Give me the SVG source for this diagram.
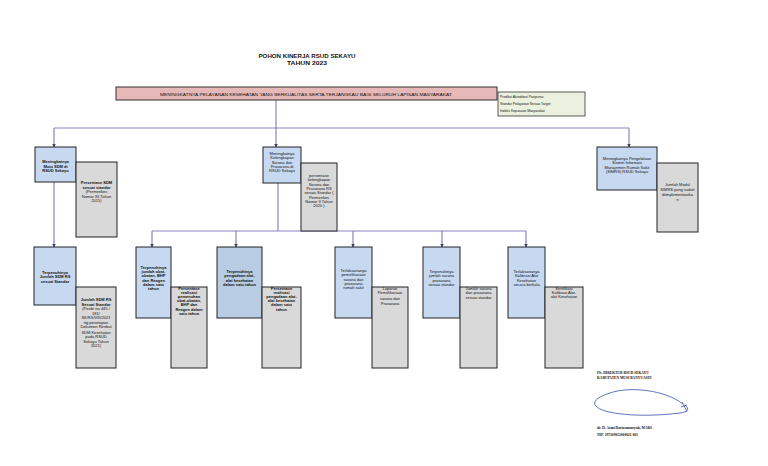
<svg xmlns="http://www.w3.org/2000/svg" width="768" height="466" viewBox="0 0 768 466">
<defs>
<marker id="ah" markerWidth="4" markerHeight="4" refX="3.5" refY="2" orient="auto" markerUnits="userSpaceOnUse"><path d="M0,0 L4,2 L0,4 z" fill="#404060"/></marker>
<style>
text{font-family:"Liberation Sans",Arial,sans-serif;fill:#111;text-anchor:middle}
.t{font-size:4px}
.b{font-weight:bold}
.blue{fill:#c6d9f1;stroke:#222;stroke-width:1}
.blue2{fill:#b8cce4;stroke:#222;stroke-width:1}
.grey{fill:#d9d9d9;stroke:#222;stroke-width:1}
.con line{stroke:#8e80c0;stroke-width:1.2}
.sig{font-family:"Liberation Serif",serif;font-weight:bold;font-size:3.6px;text-anchor:start}
</style>
</defs>
<rect width="768" height="466" fill="#fff"/>
<g id="title">
<text x="307" y="57.5" font-size="6" class="b" textLength="97" lengthAdjust="spacingAndGlyphs">POHON KINERJA RSUD SEKAYU</text>
<text x="307" y="65" font-size="6" class="b" textLength="40" lengthAdjust="spacingAndGlyphs">TAHUN 2023</text>
</g>
<g id="connectors" class="con">
<line x1="276" y1="100" x2="276" y2="128"/>
<line x1="54" y1="128" x2="629" y2="128"/>
<line x1="54" y1="128" x2="54" y2="147" marker-end="url(#ah)"/>
<line x1="276" y1="128" x2="276" y2="147" marker-end="url(#ah)"/>
<line x1="629" y1="128" x2="629" y2="147" marker-end="url(#ah)"/>
<line x1="54" y1="182" x2="54" y2="247" marker-end="url(#ah)"/>
<line x1="278" y1="183" x2="278" y2="231"/>
<line x1="152" y1="231" x2="526" y2="231"/>
<line x1="152" y1="231" x2="152" y2="247" marker-end="url(#ah)"/>
<line x1="236" y1="231" x2="236" y2="247" marker-end="url(#ah)"/>
<line x1="353" y1="231" x2="353" y2="247" marker-end="url(#ah)"/>
<line x1="442" y1="231" x2="442" y2="247" marker-end="url(#ah)"/>
<line x1="526" y1="231" x2="526" y2="247" marker-end="url(#ah)"/>
</g>
<g id="goal">
<rect x="116" y="87" width="381" height="13" fill="#e6b8b7" stroke="#333" stroke-width="1"/>
<text x="306" y="95.5" font-size="4.2" textLength="292" lengthAdjust="spacingAndGlyphs">MENINGKATNYA PELAYANAN KESEHATAN YANG BERKUALITAS SERTA TERJANGKAU BAGI SELURUH LAPISAN MASYARAKAT</text>
</g>
<g id="indicators">
<rect x="498" y="92" width="87" height="24" fill="#ebf1de" stroke="#333" stroke-width="0.8"/>
<text x="500" y="98" font-size="3.4" style="text-anchor:start">Prediksi Akreditasi Paripurna</text>
<text x="500" y="105" font-size="3.4" style="text-anchor:start">Standar Pelayanan Sesuai Target</text>
<text x="500" y="112" font-size="3.4" style="text-anchor:start">Indeks Kepuasan Masyarakat</text>
</g>
<g id="n-sdm">
<rect class="blue" x="35" y="147" width="41" height="35"/>
<text class="t b" x="55.5" y="163">Meningkatnya</text>
<text class="t b" x="55.5" y="167.5">Mutu SDM di</text>
<text class="t b" x="55.5" y="172">RSUD Sekayu</text>
</g>
<g id="i-sdm">
<rect class="grey" x="76" y="162" width="41" height="75"/>
<text class="t b" x="96.5" y="184">Persentase SDM</text>
<text class="t b" x="96.5" y="188.5">sesuai standar</text>
<text class="t" x="96.5" y="193">(Permenkes</text>
<text class="t" x="96.5" y="197.5">Nomor 33 Tahun</text>
<text class="t" x="96.5" y="202">2015)</text>
</g>
<g id="n-sarpras">
<rect class="blue" x="263" y="147" width="38" height="36"/>
<text class="t" x="282" y="155">Meningkatnya</text>
<text class="t" x="282" y="159.3">Kelengkapan</text>
<text class="t" x="282" y="163.6">Sarana dan</text>
<text class="t" x="282" y="167.9">Prasarana di</text>
<text class="t" x="282" y="172.2">RSUD Sekayu</text>
</g>
<g id="i-sarpras">
<rect class="grey" x="301" y="163" width="36" height="68"/>
<text class="t" x="319" y="177">persentase</text>
<text class="t" x="319" y="181.3">kelengkapan</text>
<text class="t" x="319" y="185.6">Sarana dan</text>
<text class="t" x="319" y="189.9">Prasarana RS</text>
<text class="t" x="319" y="194.2">sesuai Standar (</text>
<text class="t" x="319" y="198.5">Permenkes</text>
<text class="t" x="319" y="202.8">Nomor 3 Tahun</text>
<text class="t" x="319" y="207.1">2020 )</text>
</g>
<g id="n-simrs">
<rect class="blue" x="597" y="147" width="60" height="43"/>
<text class="t" x="627" y="160">Meningkatnya Pengelolaan</text>
<text class="t" x="627" y="164.3">Sistem Informasi</text>
<text class="t" x="627" y="169">Manajemen Rumah Sakit</text>
<text class="t" x="627" y="173.3">(SIMRS) RSUD Sekayu</text>
</g>
<g id="i-simrs">
<rect class="grey" x="657" y="163" width="41" height="69"/>
<text class="t" x="677.5" y="186">Jumlah Modul</text>
<text class="t" x="677.5" y="191">SIMRS yang sudah</text>
<text class="t" x="677.5" y="196">diimplementasika</text>
<text class="t" x="677.5" y="201">n</text>
</g>
<g id="n-jumlahsdm">
<rect class="blue" x="34" y="247" width="42" height="58"/>
<text class="t b" x="55" y="274">Terpenuhinya</text>
<text class="t b" x="55" y="278.3">Jumlah SDM RS</text>
<text class="t b" x="55" y="282.6">sesuai Standar</text>
</g>
<g id="i-jumlahsdm">
<rect class="grey" x="76" y="287" width="40" height="81"/>
<text class="t b" x="96" y="301">Jumlah SDM RS</text>
<text class="t b" x="96" y="305.5">Sesuai Standar</text>
<text class="t" x="96" y="310">(Perdir no 445 /</text>
<text class="t" x="96" y="314.5">181/</text>
<text class="t" x="96" y="319">SK/RS/VIII/2021</text>
<text class="t" x="96" y="323.5">ttg penetapan</text>
<text class="t" x="96" y="328">Dokumen Renbut</text>
<text class="t" x="96" y="333.5">SDM Kesehatan</text>
<text class="t" x="96" y="338">pada RSUD</text>
<text class="t" x="96" y="342.5">Sekayu Tahun</text>
<text class="t" x="96" y="347">2021)</text>
</g>
<g id="n-obat">
<rect class="blue" x="136" y="247" width="35" height="71"/>
<text class="t b" x="153.5" y="269">Terpenuhinya</text>
<text class="t b" x="153.5" y="273.2">jumlah obat-</text>
<text class="t b" x="153.5" y="277.4">obatan, BHP</text>
<text class="t b" x="153.5" y="281.6">dan Reagen</text>
<text class="t b" x="153.5" y="285.8">dalam satu</text>
<text class="t b" x="153.5" y="290">tahun</text>
</g>
<g id="i-obat">
<rect class="grey" x="171" y="287" width="36" height="81"/>
<text class="t b" x="189" y="289.5">Persentase</text>
<text class="t b" x="189" y="293.7">realisasi</text>
<text class="t b" x="189" y="298">pemenuhan</text>
<text class="t b" x="189" y="302.2">obat-obatan,</text>
<text class="t b" x="189" y="306.4">BHP dan</text>
<text class="t b" x="189" y="310.6">Reagen dalam</text>
<text class="t b" x="189" y="314.8">satu tahun</text>
</g>
<g id="n-alkes">
<rect class="blue2" x="217" y="247" width="45" height="71"/>
<text class="t b" x="239.5" y="273">Terpenuhinya</text>
<text class="t b" x="239.5" y="277.3">pengadaan alat-</text>
<text class="t b" x="239.5" y="281.6">alat kesehatan</text>
<text class="t b" x="239.5" y="285.9">dalam satu tahun</text>
</g>
<g id="i-alkes">
<rect class="grey" x="262" y="287" width="39" height="81"/>
<text class="t b" x="281.5" y="289.5">Persentase</text>
<text class="t b" x="281.5" y="293.7">realisasi</text>
<text class="t b" x="281.5" y="298">pengadaan alat-</text>
<text class="t b" x="281.5" y="302.2">alat kesehatan</text>
<text class="t b" x="281.5" y="306.4">dalam satu</text>
<text class="t b" x="281.5" y="310.6">tahun</text>
</g>
<g id="n-pemeliharaan">
<rect class="blue" x="335" y="247" width="37" height="71"/>
<text class="t" x="353.5" y="272">Terlaksananya</text>
<text class="t" x="353.5" y="276.3">pemeliharaan</text>
<text class="t" x="353.5" y="280.6">sarana dan</text>
<text class="t" x="353.5" y="284.9">prasarana</text>
<text class="t" x="353.5" y="289.2">rumah sakit</text>
</g>
<g id="i-pemeliharaan">
<rect class="grey" x="372" y="287" width="36" height="81"/>
<text class="t" x="390" y="290">Laporan</text>
<text class="t" x="390" y="294.3">Pemeliharaan</text>
<text class="t" x="390" y="299.5">sarana dan</text>
<text class="t" x="390" y="304.5">Prasarana</text>
</g>
<g id="n-sarana">
<rect class="blue" x="423" y="247" width="37" height="71"/>
<text class="t" x="441.5" y="273">Terpenuhinya</text>
<text class="t" x="441.5" y="277.3">jumlah sarana</text>
<text class="t" x="441.5" y="281.6">prasarana</text>
<text class="t" x="441.5" y="285.9">sesuai standar</text>
</g>
<g id="i-sarana">
<rect class="grey" x="460" y="287" width="37" height="81"/>
<text class="t" x="478.5" y="290">Jumlah sarana</text>
<text class="t" x="478.5" y="294.3">dan prasarana</text>
<text class="t" x="478.5" y="298.6">sesuai standar</text>
</g>
<g id="n-kalibrasi">
<rect class="blue" x="508" y="247" width="37" height="71"/>
<text class="t" x="526.5" y="273">Terlaksananya</text>
<text class="t" x="526.5" y="277.3">Kalibrasi Alat</text>
<text class="t" x="526.5" y="281.6">Kesehatan</text>
<text class="t" x="526.5" y="285.9">secara berkala</text>
</g>
<g id="i-kalibrasi">
<rect class="grey" x="545" y="287" width="38" height="81"/>
<text class="t" x="564" y="289.5">Sertifikasi</text>
<text class="t" x="564" y="293.8">Kalibrasi Alat-</text>
<text class="t" x="564" y="298.1">alat Kesehatan</text>
</g>
<g id="signature">
<text class="sig" x="597" y="374">Plt. DIREKTUR RSUD SEKAYU</text>
<text class="sig" x="597" y="378.5">KABUPATEN MUSI BANYUASIN</text>
<path d="M683,404 C665,390 630,386 610,393 C597,397 592,402 596,406 C602,414 640,418 680,413 C688,412 690,409 685,405 M682,402 C684,406 686,409 687,412 M681,407 l6,-2" fill="none" stroke="#3a4fa8" stroke-width="0.8"/>
<text class="sig" x="597" y="428.5">dr. H. Azmi Dariusmansyah, MARS</text>
<text class="sig" x="597" y="435.5">NIP. 197209052000021 003</text>
</g>
</svg>
